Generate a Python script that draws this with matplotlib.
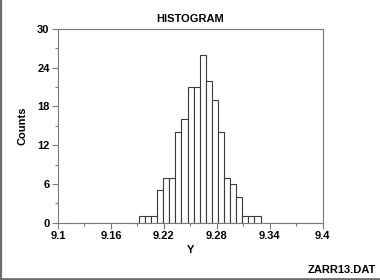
import numpy as np
import matplotlib
matplotlib.use("Agg")
import matplotlib.pyplot as plt
from matplotlib.lines import Line2D

# histogram of ZARR13.DAT
first_edge = 9.1227
bin_width = 0.0069
counts = [0] * 10 + [1, 1, 1, 5, 7, 7, 14, 16, 21, 21, 26, 22, 19, 14, 7, 6, 4, 1, 1, 1] + [0] * 10

x_ticks = [9.1, 9.16, 9.22, 9.28, 9.34, 9.4]
x_ticklabels = ["9.1", "9.16", "9.22", "9.28", "9.34", "9.4"]
y_ticks = [0, 6, 12, 18, 24, 30]

plt.rcParams["font.family"] = ["Liberation Sans", "DejaVu Sans"]
plt.rcParams["font.weight"] = "bold"

fig = plt.figure(figsize=(3.8, 2.8), dpi=100)
ax = fig.add_axes([0.1526, 0.2046, 0.6961, 0.6918])

lefts = first_edge + bin_width * np.arange(len(counts))
ax.bar(lefts, counts, width=bin_width, align="edge", facecolor="white",
       edgecolor="#3a3a3a", linewidth=0.8)

ax.set_xlim(9.1, 9.4)
ax.set_ylim(0, 30)
ax.set_xticks(x_ticks)
ax.set_xticklabels(x_ticklabels)
ax.set_xticks(np.arange(9.13, 9.4, 0.06), minor=True)
ax.set_yticks(y_ticks)
ax.set_yticks(np.arange(3, 30, 6), minor=True)

for s in ax.spines.values():
    s.set_color("#7a7a7a")
    s.set_linewidth(0.8)
ax.tick_params(which="both", direction="out", color="#7a7a7a", width=0.8,
               labelsize=8, pad=2, top=False, right=False)
ax.tick_params(which="major", length=4)
ax.tick_params(which="minor", length=2.5)

ax.set_title("HISTOGRAM", fontsize=8, fontweight="bold", pad=5)
ax.set_xlabel("Y", fontsize=8, fontweight="bold", labelpad=3)
ax.set_ylabel("Counts", fontsize=8, fontweight="bold", labelpad=7)

fig.text(0.988, 0.018, "ZARR13.DAT", ha="right", va="bottom",
         fontsize=8, fontweight="bold")

# grey frame on the left and bottom edges of the picture
fig.add_artist(Line2D([0.003, 0.003], [0, 1], color="#6e6e6e", linewidth=1.6))
fig.add_artist(Line2D([0, 1], [0.005, 0.005], color="#6e6e6e", linewidth=2.0))

fig.savefig("out.png", dpi=100)
